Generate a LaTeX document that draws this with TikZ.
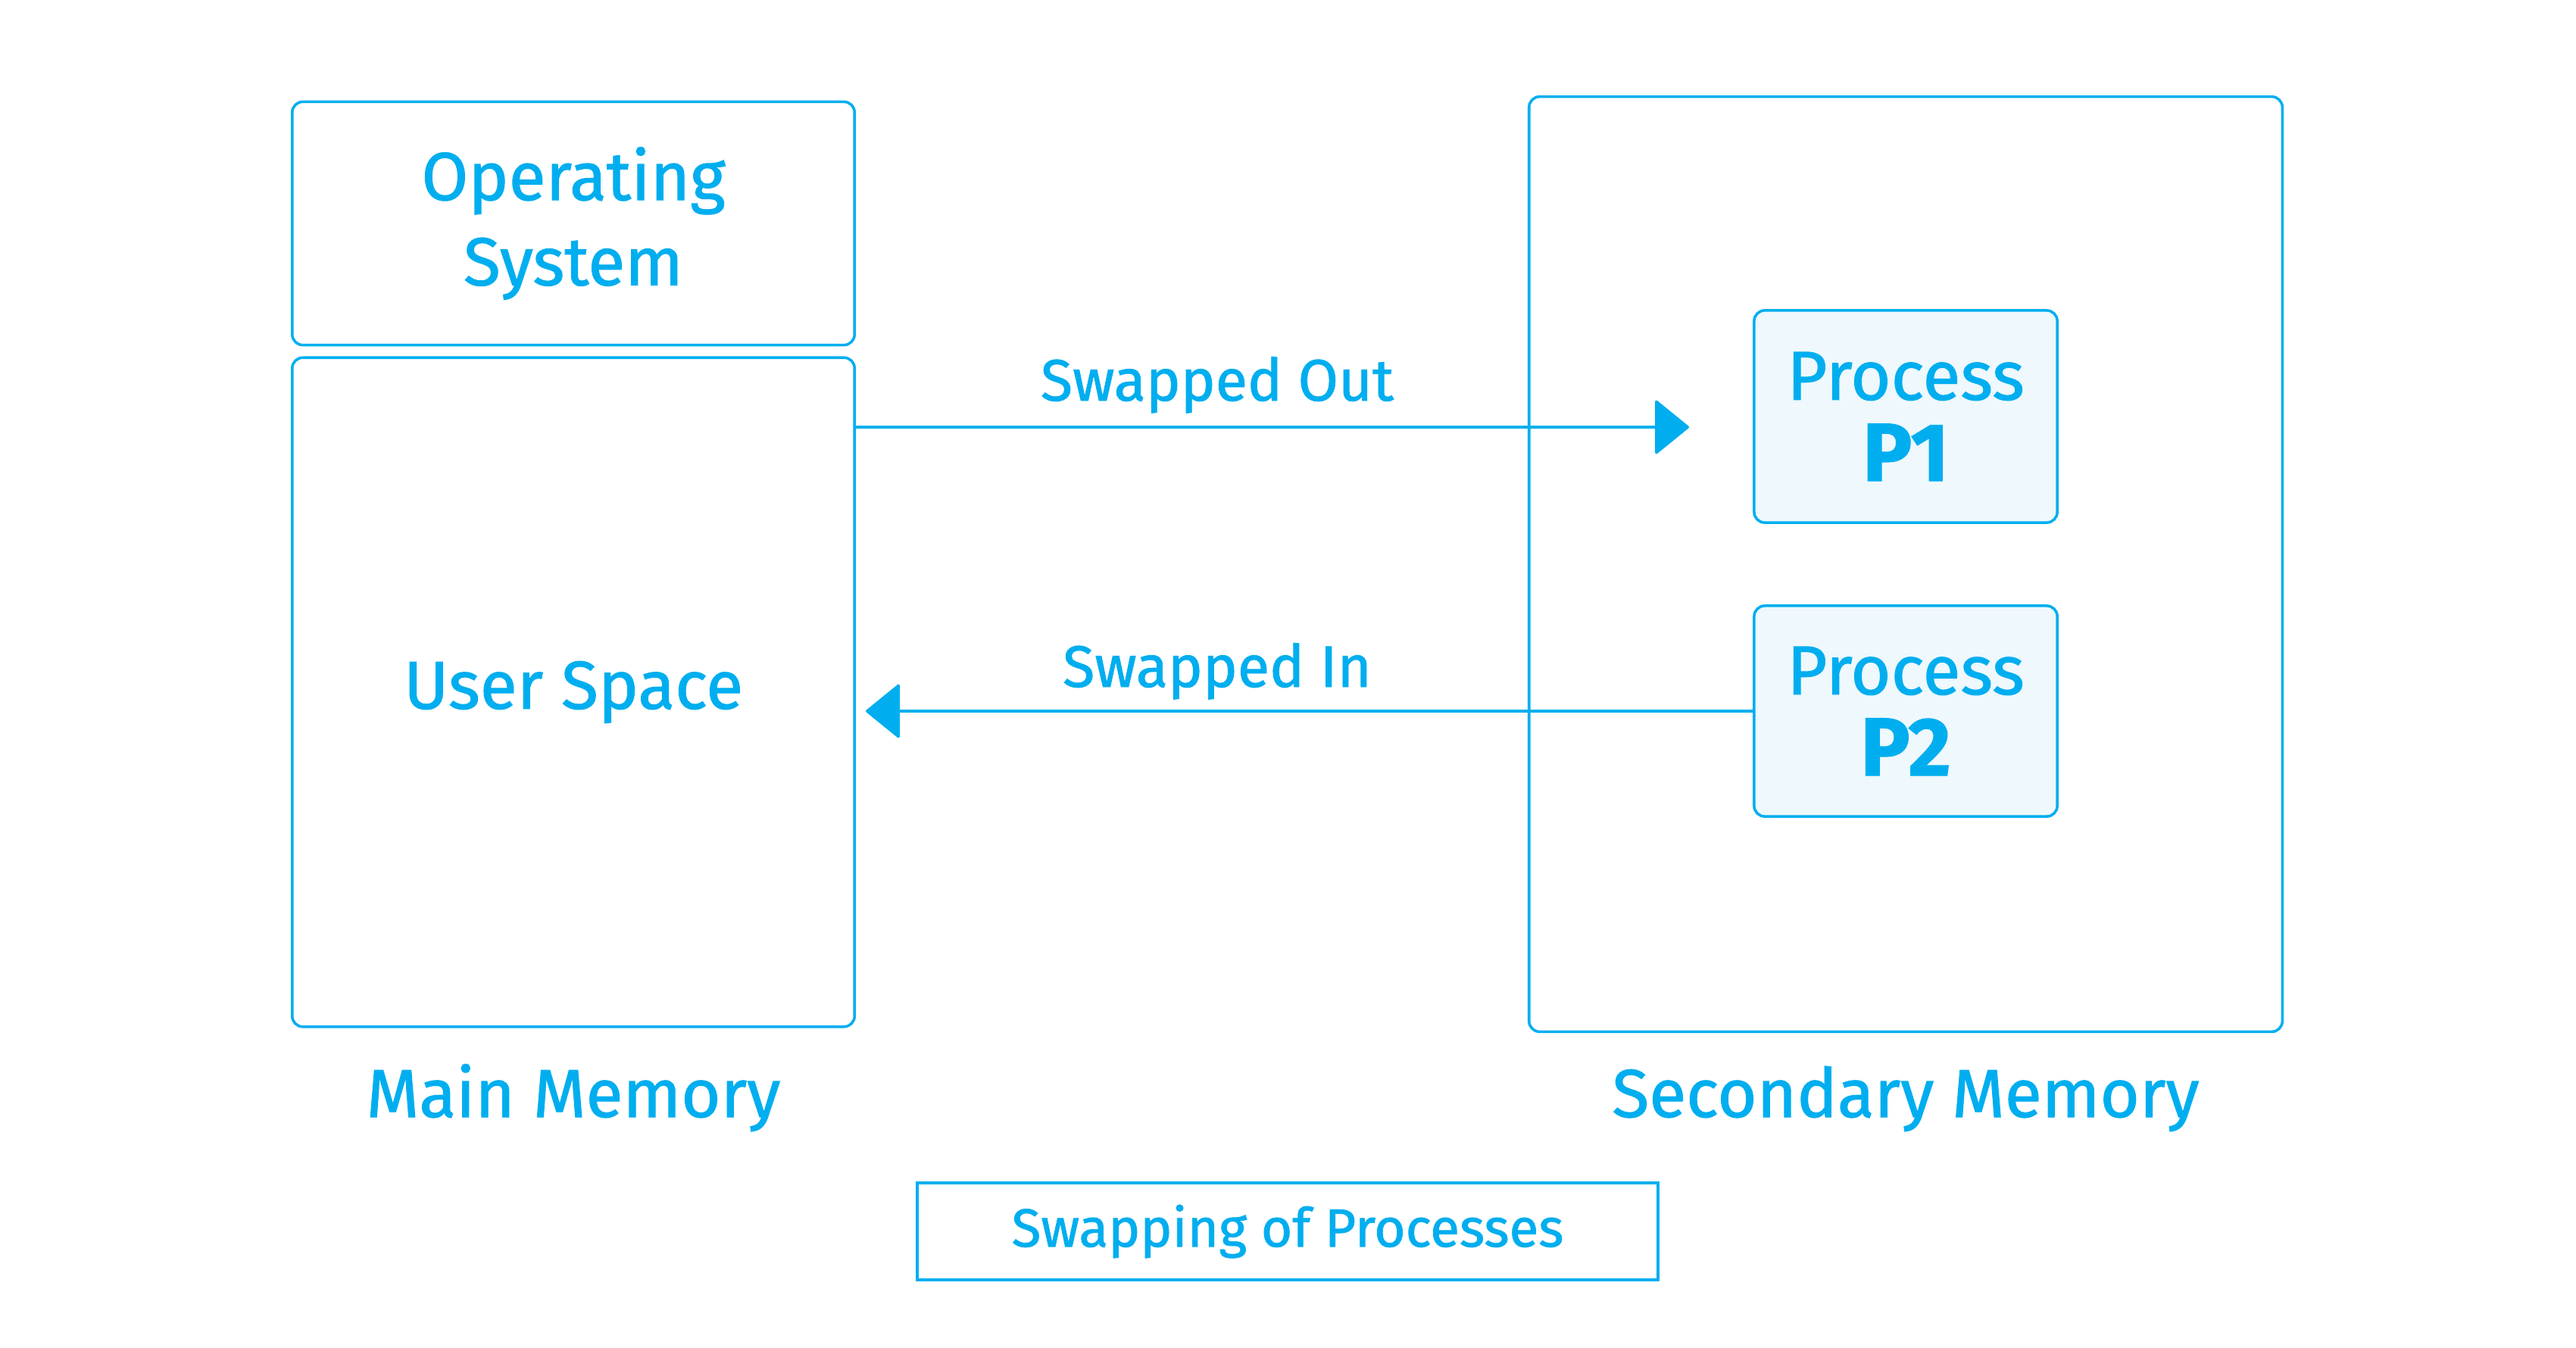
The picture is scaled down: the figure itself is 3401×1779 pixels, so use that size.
\documentclass[tikz,border=0pt]{standalone}
\usepackage{fontspec}
\setmainfont{Fira Sans}[FakeBold=1.1]
\usetikzlibrary{arrows.meta,positioning,calc}
\definecolor{swapblue}{HTML}{00AEEF}
\definecolor{procfill}{HTML}{EEF8FD}
\newcommand{\procid}[1]{{\fontsize{31}{31}\selectfont\bfseries #1}}
\tikzset{
    membox/.style={
        rectangle,
        rounded corners=0.14cm,
        draw=swapblue,
        line width=1pt,
        text=swapblue,
        align=center,
        inner sep=0pt,
        font=\fontsize{25.5}{32}\selectfont,
    },
    procbox/.style={
        membox,
        fill=procfill,
        font=\fontsize{26}{30.5}\selectfont,
    },
    caption/.style={
        rectangle,
        draw=swapblue,
        line width=1.2pt,
        text=swapblue,
        inner sep=0pt,
        font=\fontsize{20.2}{25}\selectfont,
    },
    memlabel/.style={
        text=swapblue,
        inner sep=0pt,
        anchor=base,
        font=\fontsize{25.5}{32}\selectfont,
    },
    swaplabel/.style={
        text=swapblue,
        inner sep=0pt,
        anchor=base,
        font=\fontsize{22}{28}\selectfont,
    },
    swapline/.style={
        draw=swapblue,
        line width=1pt,
        -{Triangle[length=0.46cm,width=0.74cm,round]},
    },
}

\begin{document}
\begin{tikzpicture}[x=0.01cm,y=-0.01cm]
    \fill[white] (0,0) rectangle (3401,1779);
    % main memory
    \node [membox, minimum width=7.42cm, minimum height=3.21cm] (os) at (757,295) {Operating\\System};
    \node [membox, minimum width=7.42cm, minimum height=8.83cm] (user) at (757,914) {User Space};
    \node [memlabel] (main) at (757,1475) {Main Memory};
    % secondary memory
    \node [membox, minimum width=9.94cm, minimum height=12.34cm] (second) at (2516,745) {};
    \node [procbox, minimum width=4.00cm, minimum height=2.80cm] (p1) at (2516,550) {Process\\\procid{P1}};
    \node [procbox, minimum width=4.00cm, minimum height=2.78cm] (p2) at (2516,939) {Process\\\procid{P2}};
    \node [memlabel] (secondlabel) at (2516,1475) {Secondary Memory};
    % swapping
    \coordinate (outend) at (2230,564);
    \coordinate (inend) at (1143,939);
    \draw [swapline] (user.east |- outend) -- (outend);
    \draw [swapline] (p2.west) -- (inend);
    \node [swaplabel] (outlabel) at (1607,529) {Swapped Out};
    \node [swaplabel] (inlabel) at (1607,907) {Swapped In};
    \node [caption, minimum width=9.77cm, minimum height=1.28cm] (title) at (1700,1626) {Swapping of Processes};
\end{tikzpicture}
\end{document}
